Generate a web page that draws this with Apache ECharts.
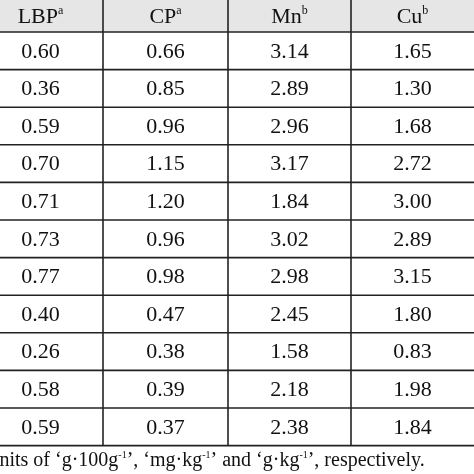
<!DOCTYPE html>
<html><head><meta charset="utf-8">
<script src="https://cdn.jsdelivr.net/npm/echarts@6/dist/echarts.min.js"></script>
<style>html,body{margin:0;padding:0;background:#fff}#main{width:474px;height:474px}</style>
</head><body><div id="main"></div>
<script>
// table content
const headers = [['LBP', 'a'], ['CP', 'a'], ['Mn', 'b'], ['Cu', 'b']];
const lbp = ['0.60', '0.36', '0.59', '0.70', '0.71', '0.73', '0.77', '0.40', '0.26', '0.58', '0.59'];
const cp = ['0.66', '0.85', '0.96', '1.15', '1.20', '0.96', '0.98', '0.47', '0.38', '0.39', '0.37'];
const mn = ['3.14', '2.89', '2.96', '3.17', '1.84', '3.02', '2.98', '2.45', '1.58', '2.18', '2.38'];
const cu = ['1.65', '1.30', '1.68', '2.72', '3.00', '2.89', '3.15', '1.80', '0.83', '1.98', '1.84'];
const footnote = 'Units of ‘g·100g{s|-1}’, ‘mg·kg{s|-1}’ and ‘g·kg{s|-1}’, respectively.';

const columns = [lbp, cp, mn, cu];
const colEdges = [-22, 103, 228, 351, 474];
const headerH = 32, rowH = 37.6;
const font = '"Liberation Serif", "DejaVu Serif", serif';
const lineColor = '#222';

const g = [];
g.push({ type: 'rect', shape: { x: 0, y: 0, width: 474, height: headerH }, style: { fill: '#e6e6e6' } });
// horizontal lines
for (let i = 0; i <= lbp.length; i++) {
  const y = headerH + i * rowH;
  g.push({ type: 'line', shape: { x1: 0, y1: y, x2: 474, y2: y }, style: { stroke: lineColor, lineWidth: 1.6 } });
}
// vertical lines
for (let c = 1; c < colEdges.length - 1; c++) {
  g.push({ type: 'line', shape: { x1: colEdges[c], y1: 0, x2: colEdges[c], y2: headerH + lbp.length * rowH }, style: { stroke: lineColor, lineWidth: 1.6 } });
}
columns.forEach((col, c) => {
  const cx = (colEdges[c] + colEdges[c + 1]) / 2;
  g.push({
    type: 'text', x: cx, y: headerH / 2 + 1,
    style: {
      text: headers[c][0] + '{s|' + headers[c][1] + '}', align: 'center', verticalAlign: 'middle',
      font: '22px ' + font, fill: '#111',
      rich: { s: { fontSize: 12, fontFamily: font, fill: '#111', padding: [0, 0, 12, 0] } }
    }
  });
  col.forEach((v, r) => {
    g.push({
      type: 'text', x: cx, y: headerH + (r + 0.5) * rowH + 1,
      style: { text: v, align: 'center', verticalAlign: 'middle', font: '22px ' + font, fill: '#111' }
    });
  });
});
g.push({
  type: 'text', x: -15, y: 461,
  style: {
    text: footnote, align: 'left', verticalAlign: 'middle', font: '20px ' + font, fill: '#111',
    rich: { s: { fontSize: 10, fontFamily: font, fill: '#111', padding: [0, 0, 12, 0] } }
  }
});

const chart = echarts.init(document.getElementById('main'));
chart.setOption({ backgroundColor: '#fff', animation: false, graphic: g });
</script></body></html>
